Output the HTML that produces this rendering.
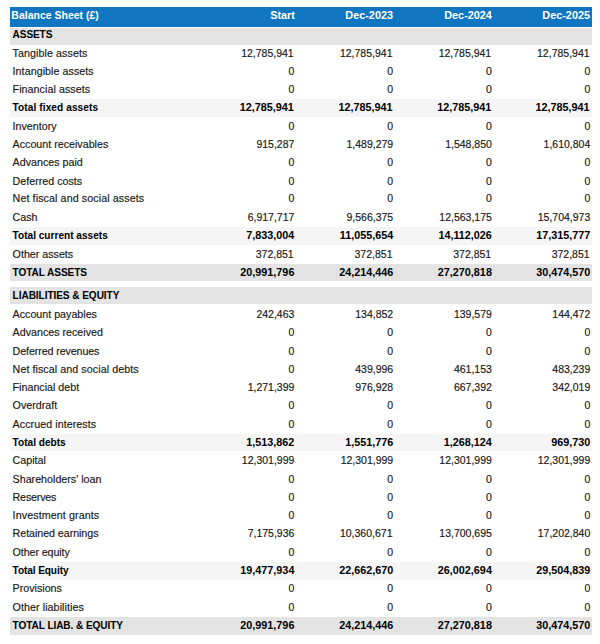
<!DOCTYPE html>
<html><head><meta charset="utf-8"><style>
html,body{margin:0;padding:0;background:#fff;}
body{width:600px;height:644px;position:relative;overflow:hidden;font-family:"Liberation Sans",sans-serif;}
.bg{position:absolute;}
.t{position:absolute;white-space:nowrap;line-height:20px;height:20px;}
.l{text-align:left;}
.r{text-align:right;width:120px;}
.n{color:#161616;font-size:10.7px;-webkit-text-stroke:0.15px #161616;}
.b{color:#000;font-weight:bold;font-size:10.1px;letter-spacing:0.0px;}
.nn{color:#161616;font-size:10.5px;-webkit-text-stroke:0.15px #161616;}
.nb{color:#000;font-weight:bold;font-size:10.8px;}
.h{color:#fff;font-weight:bold;font-size:10.5px;}
.hc{font-size:10.85px;}
</style></head><body>

<div class="bg" style="left:10.0px;top:6.8px;width:582.20px;height:19.80px;background:#1076c1"></div>
<div class="t l h" style="left:11.30px;top:5.00px">Balance Sheet (£)</div>
<div class="t r h hc" style="left:174.90px;top:5.00px">Start</div>
<div class="t r h hc" style="left:273.00px;top:5.00px">Dec-2023</div>
<div class="t r h hc" style="left:371.90px;top:5.00px">Dec-2024</div>
<div class="t r h hc" style="left:470.00px;top:5.00px">Dec-2025</div>
<div class="bg" style="left:10.0px;top:27.70px;width:582.20px;height:16.90px;background:#e3e3e3"></div>
<div class="t l b" style="left:12.6px;top:25.00px;letter-spacing:-0.120px">ASSETS</div>
<div class="t l n" style="left:12.6px;top:43.00px;letter-spacing:0.080px">Tangible assets</div>
<div class="t r nn" style="left:173.70px;top:43.00px">12,785,941</div>
<div class="t r nn" style="left:272.50px;top:43.00px">12,785,941</div>
<div class="t r nn" style="left:371.20px;top:43.00px">12,785,941</div>
<div class="t r nn" style="left:469.60px;top:43.00px">12,785,941</div>
<div class="t l n" style="left:12.6px;top:61.00px;letter-spacing:0.053px">Intangible assets</div>
<div class="t r nn" style="left:174.40px;top:61.00px">0</div>
<div class="t r nn" style="left:273.20px;top:61.00px">0</div>
<div class="t r nn" style="left:371.90px;top:61.00px">0</div>
<div class="t r nn" style="left:470.30px;top:61.00px">0</div>
<div class="t l n" style="left:12.6px;top:79.00px;letter-spacing:0.056px">Financial assets</div>
<div class="t r nn" style="left:174.40px;top:79.00px">0</div>
<div class="t r nn" style="left:273.20px;top:79.00px">0</div>
<div class="t r nn" style="left:371.90px;top:79.00px">0</div>
<div class="t r nn" style="left:470.30px;top:79.00px">0</div>
<div class="bg" style="left:10.0px;top:99.18px;width:582.20px;height:17.60px;background:#f5f5f5"></div>
<div class="t l b" style="left:12.6px;top:98.00px;letter-spacing:0.089px">Total fixed assets</div>
<div class="t r nb" style="left:173.70px;top:97.00px">12,785,941</div>
<div class="t r nb" style="left:272.50px;top:97.00px">12,785,941</div>
<div class="t r nb" style="left:371.20px;top:97.00px">12,785,941</div>
<div class="t r nb" style="left:469.60px;top:97.00px">12,785,941</div>
<div class="t l n" style="left:12.6px;top:116.00px">Inventory</div>
<div class="t r nn" style="left:174.40px;top:116.00px">0</div>
<div class="t r nn" style="left:273.20px;top:116.00px">0</div>
<div class="t r nn" style="left:371.90px;top:116.00px">0</div>
<div class="t r nn" style="left:470.30px;top:116.00px">0</div>
<div class="t l n" style="left:12.6px;top:134.00px">Account receivables</div>
<div class="t r nn" style="left:174.40px;top:134.00px">915,287</div>
<div class="t r nn" style="left:273.20px;top:134.00px">1,489,279</div>
<div class="t r nn" style="left:371.90px;top:134.00px">1,548,850</div>
<div class="t r nn" style="left:470.30px;top:134.00px">1,610,804</div>
<div class="t l n" style="left:12.6px;top:152.00px">Advances paid</div>
<div class="t r nn" style="left:174.40px;top:152.00px">0</div>
<div class="t r nn" style="left:273.20px;top:152.00px">0</div>
<div class="t r nn" style="left:371.90px;top:152.00px">0</div>
<div class="t r nn" style="left:470.30px;top:152.00px">0</div>
<div class="t l n" style="left:12.6px;top:171.00px">Deferred costs</div>
<div class="t r nn" style="left:174.40px;top:171.00px">0</div>
<div class="t r nn" style="left:273.20px;top:171.00px">0</div>
<div class="t r nn" style="left:371.90px;top:171.00px">0</div>
<div class="t r nn" style="left:470.30px;top:171.00px">0</div>
<div class="t l n" style="left:12.6px;top:188.00px;letter-spacing:0.098px">Net fiscal and social assets</div>
<div class="t r nn" style="left:174.40px;top:188.00px">0</div>
<div class="t r nn" style="left:273.20px;top:188.00px">0</div>
<div class="t r nn" style="left:371.90px;top:188.00px">0</div>
<div class="t r nn" style="left:470.30px;top:188.00px">0</div>
<div class="t l n" style="left:12.6px;top:207.00px">Cash</div>
<div class="t r nn" style="left:174.40px;top:207.00px">6,917,717</div>
<div class="t r nn" style="left:273.20px;top:207.00px">9,566,375</div>
<div class="t r nn" style="left:371.90px;top:207.00px">12,563,175</div>
<div class="t r nn" style="left:470.30px;top:207.00px">15,704,973</div>
<div class="bg" style="left:10.0px;top:227.07px;width:582.20px;height:17.60px;background:#f5f5f5"></div>
<div class="t l b" style="left:12.6px;top:226.00px">Total current assets</div>
<div class="t r nb" style="left:174.40px;top:225.00px">7,833,004</div>
<div class="t r nb" style="left:273.20px;top:225.00px">11,055,654</div>
<div class="t r nb" style="left:371.90px;top:225.00px">14,112,026</div>
<div class="t r nb" style="left:470.30px;top:225.00px">17,315,777</div>
<div class="t l n" style="left:12.6px;top:244.00px">Other assets</div>
<div class="t r nn" style="left:173.70px;top:244.00px">372,851</div>
<div class="t r nn" style="left:272.50px;top:244.00px">372,851</div>
<div class="t r nn" style="left:371.20px;top:244.00px">372,851</div>
<div class="t r nn" style="left:469.60px;top:244.00px">372,851</div>
<div class="bg" style="left:10.0px;top:263.61px;width:582.20px;height:17.60px;background:#e3e3e3"></div>
<div class="t l b" style="left:12.6px;top:263.00px;letter-spacing:-0.083px">TOTAL ASSETS</div>
<div class="t r nb" style="left:174.40px;top:262.00px">20,991,796</div>
<div class="t r nb" style="left:273.20px;top:262.00px">24,214,446</div>
<div class="t r nb" style="left:371.90px;top:262.00px">27,270,818</div>
<div class="t r nb" style="left:470.30px;top:262.00px">30,474,570</div>
<div class="bg" style="left:10.0px;top:286.90px;width:582.20px;height:17.60px;background:#e3e3e3"></div>
<div class="t l b" style="left:12.6px;top:286.00px;letter-spacing:-0.075px">LIABILITIES &amp; EQUITY</div>
<div class="t l n" style="left:12.6px;top:304.00px">Account payables</div>
<div class="t r nn" style="left:174.40px;top:304.00px">242,463</div>
<div class="t r nn" style="left:273.20px;top:304.00px">134,852</div>
<div class="t r nn" style="left:371.90px;top:304.00px">139,579</div>
<div class="t r nn" style="left:470.30px;top:304.00px">144,472</div>
<div class="t l n" style="left:12.6px;top:322.00px">Advances received</div>
<div class="t r nn" style="left:174.40px;top:322.00px">0</div>
<div class="t r nn" style="left:273.20px;top:322.00px">0</div>
<div class="t r nn" style="left:371.90px;top:322.00px">0</div>
<div class="t r nn" style="left:470.30px;top:322.00px">0</div>
<div class="t l n" style="left:12.6px;top:341.00px;letter-spacing:-0.106px">Deferred revenues</div>
<div class="t r nn" style="left:174.40px;top:341.00px">0</div>
<div class="t r nn" style="left:273.20px;top:341.00px">0</div>
<div class="t r nn" style="left:371.90px;top:341.00px">0</div>
<div class="t r nn" style="left:470.30px;top:341.00px">0</div>
<div class="t l n" style="left:12.6px;top:359.00px;letter-spacing:0.070px">Net fiscal and social debts</div>
<div class="t r nn" style="left:174.40px;top:359.00px">0</div>
<div class="t r nn" style="left:273.20px;top:359.00px">439,996</div>
<div class="t r nn" style="left:371.90px;top:359.00px">461,153</div>
<div class="t r nn" style="left:470.30px;top:359.00px">483,239</div>
<div class="t l n" style="left:12.6px;top:377.00px">Financial debt</div>
<div class="t r nn" style="left:174.40px;top:377.00px">1,271,399</div>
<div class="t r nn" style="left:273.20px;top:377.00px">976,928</div>
<div class="t r nn" style="left:371.90px;top:377.00px">667,392</div>
<div class="t r nn" style="left:470.30px;top:377.00px">342,019</div>
<div class="t l n" style="left:12.6px;top:395.00px">Overdraft</div>
<div class="t r nn" style="left:174.40px;top:395.00px">0</div>
<div class="t r nn" style="left:273.20px;top:395.00px">0</div>
<div class="t r nn" style="left:371.90px;top:395.00px">0</div>
<div class="t r nn" style="left:470.30px;top:395.00px">0</div>
<div class="t l n" style="left:12.6px;top:414.00px;letter-spacing:0.059px">Accrued interests</div>
<div class="t r nn" style="left:174.40px;top:414.00px">0</div>
<div class="t r nn" style="left:273.20px;top:414.00px">0</div>
<div class="t r nn" style="left:371.90px;top:414.00px">0</div>
<div class="t r nn" style="left:470.30px;top:414.00px">0</div>
<div class="bg" style="left:10.0px;top:433.62px;width:582.20px;height:17.60px;background:#f5f5f5"></div>
<div class="t l b" style="left:12.6px;top:433.00px">Total debts</div>
<div class="t r nb" style="left:174.40px;top:432.00px">1,513,862</div>
<div class="t r nb" style="left:273.20px;top:432.00px">1,551,776</div>
<div class="t r nb" style="left:371.90px;top:432.00px">1,268,124</div>
<div class="t r nb" style="left:470.30px;top:432.00px">969,730</div>
<div class="t l n" style="left:12.6px;top:450.00px">Capital</div>
<div class="t r nn" style="left:174.40px;top:450.00px">12,301,999</div>
<div class="t r nn" style="left:273.20px;top:450.00px">12,301,999</div>
<div class="t r nn" style="left:371.90px;top:450.00px">12,301,999</div>
<div class="t r nn" style="left:470.30px;top:450.00px">12,301,999</div>
<div class="t l n" style="left:12.6px;top:469.00px">Shareholders' loan</div>
<div class="t r nn" style="left:174.40px;top:469.00px">0</div>
<div class="t r nn" style="left:273.20px;top:469.00px">0</div>
<div class="t r nn" style="left:371.90px;top:469.00px">0</div>
<div class="t r nn" style="left:470.30px;top:469.00px">0</div>
<div class="t l n" style="left:12.6px;top:487.00px;letter-spacing:-0.188px">Reserves</div>
<div class="t r nn" style="left:174.40px;top:487.00px">0</div>
<div class="t r nn" style="left:273.20px;top:487.00px">0</div>
<div class="t r nn" style="left:371.90px;top:487.00px">0</div>
<div class="t r nn" style="left:470.30px;top:487.00px">0</div>
<div class="t l n" style="left:12.6px;top:505.00px;letter-spacing:0.100px">Investment grants</div>
<div class="t r nn" style="left:174.40px;top:505.00px">0</div>
<div class="t r nn" style="left:273.20px;top:505.00px">0</div>
<div class="t r nn" style="left:371.90px;top:505.00px">0</div>
<div class="t r nn" style="left:470.30px;top:505.00px">0</div>
<div class="t l n" style="left:12.6px;top:523.00px;letter-spacing:-0.053px">Retained earnings</div>
<div class="t r nn" style="left:174.40px;top:523.00px">7,175,936</div>
<div class="t r nn" style="left:272.50px;top:523.00px">10,360,671</div>
<div class="t r nn" style="left:371.90px;top:523.00px">13,700,695</div>
<div class="t r nn" style="left:470.30px;top:523.00px">17,202,840</div>
<div class="t l n" style="left:12.6px;top:542.00px;letter-spacing:-0.092px">Other equity</div>
<div class="t r nn" style="left:174.40px;top:542.00px">0</div>
<div class="t r nn" style="left:273.20px;top:542.00px">0</div>
<div class="t r nn" style="left:371.90px;top:542.00px">0</div>
<div class="t r nn" style="left:470.30px;top:542.00px">0</div>
<div class="bg" style="left:10.0px;top:562.00px;width:582.20px;height:17.60px;background:#f5f5f5"></div>
<div class="t l b" style="left:12.6px;top:561.00px;letter-spacing:-0.100px">Total Equity</div>
<div class="t r nb" style="left:174.40px;top:560.00px">19,477,934</div>
<div class="t r nb" style="left:273.20px;top:560.00px">22,662,670</div>
<div class="t r nb" style="left:371.90px;top:560.00px">26,002,694</div>
<div class="t r nb" style="left:470.30px;top:560.00px">29,504,839</div>
<div class="t l n" style="left:12.6px;top:578.00px">Provisions</div>
<div class="t r nn" style="left:174.40px;top:578.00px">0</div>
<div class="t r nn" style="left:273.20px;top:578.00px">0</div>
<div class="t r nn" style="left:371.90px;top:578.00px">0</div>
<div class="t r nn" style="left:470.30px;top:578.00px">0</div>
<div class="t l n" style="left:12.6px;top:597.00px;letter-spacing:0.071px">Other liabilities</div>
<div class="t r nn" style="left:174.40px;top:597.00px">0</div>
<div class="t r nn" style="left:273.20px;top:597.00px">0</div>
<div class="t r nn" style="left:371.90px;top:597.00px">0</div>
<div class="t r nn" style="left:470.30px;top:597.00px">0</div>
<div class="bg" style="left:10.0px;top:617.02px;width:582.20px;height:17.60px;background:#e3e3e3"></div>
<div class="t l b" style="left:12.6px;top:616.00px;letter-spacing:-0.090px">TOTAL LIAB. &amp; EQUITY</div>
<div class="t r nb" style="left:174.40px;top:615.00px">20,991,796</div>
<div class="t r nb" style="left:273.20px;top:615.00px">24,214,446</div>
<div class="t r nb" style="left:371.90px;top:615.00px">27,270,818</div>
<div class="t r nb" style="left:470.30px;top:615.00px">30,474,570</div>
</body></html>
